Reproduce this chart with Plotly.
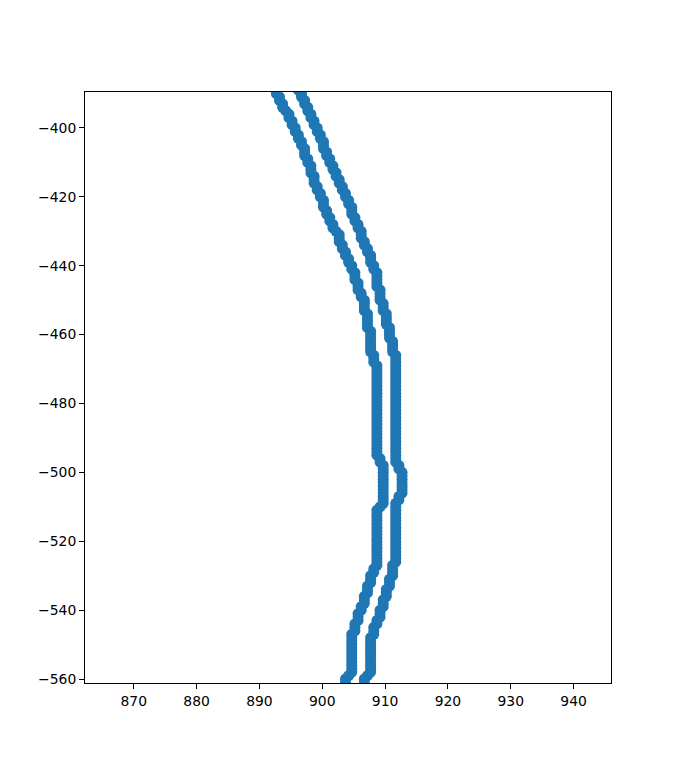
import plotly.graph_objects as go

# Shared y positions (one point per unit along each boundary)
Y = [
    -389, -390, -391, -392, -393, -394, -395, -396, -397, -398,
    -399, -400, -401, -402, -403, -404, -405, -406, -407, -408,
    -409, -410, -411, -412, -413, -414, -415, -416, -417, -418,
    -419, -420, -421, -422, -423, -424, -425, -426, -427, -428,
    -429, -430, -431, -432, -433, -434, -435, -436, -437, -438,
    -439, -440, -441, -442, -443, -444, -445, -446, -447, -448,
    -449, -450, -451, -452, -453, -454, -455, -456, -457, -458,
    -459, -460, -461, -462, -463, -464, -465, -466, -467, -468,
    -469, -470, -471, -472, -473, -474, -475, -476, -477, -478,
    -479, -480, -481, -482, -483, -484, -485, -486, -487, -488,
    -489, -490, -491, -492, -493, -494, -495, -496, -497, -498,
    -499, -500, -501, -502, -503, -504, -505, -506, -507, -508,
    -509, -510, -511, -512, -513, -514, -515, -516, -517, -518,
    -519, -520, -521, -522, -523, -524, -525, -526, -527, -528,
    -529, -530, -531, -532, -533, -534, -535, -536, -537, -538,
    -539, -540, -541, -542, -543, -544, -545, -546, -547, -548,
    -549, -550, -551, -552, -553, -554, -555, -556, -557, -558,
    -559, -560, -561,
]

X_LEFT = [
    892.7, 892.7, 893.2, 893.2, 893.7, 893.7, 894.2, 894.7, 894.7, 895.2,
    895.2, 895.7, 895.7, 896.2, 896.2, 896.7, 896.7, 897.2, 897.2, 897.2,
    897.7, 897.7, 898.2, 898.2, 898.2, 898.7, 898.7, 898.7, 899.2, 899.2,
    899.7, 899.7, 900.2, 900.2, 900.2, 900.7, 900.7, 901.2, 901.2, 901.7,
    901.7, 902.2, 902.7, 902.7, 902.7, 903.2, 903.2, 903.7, 903.7, 904.2,
    904.2, 904.7, 904.7, 905.2, 905.2, 905.2, 905.7, 905.7, 905.7, 906.2,
    906.2, 906.7, 906.7, 906.7, 906.7, 907.2, 907.2, 907.2, 907.2, 907.2,
    907.7, 907.7, 907.7, 907.7, 907.7, 907.7, 907.7, 908.2, 908.2, 908.2,
    908.7, 908.7, 908.7, 908.7, 908.7, 908.7, 908.7, 908.7, 908.7, 908.7,
    908.7, 908.7, 908.7, 908.7, 908.7, 908.7, 908.7, 908.7, 908.7, 908.7,
    908.7, 908.7, 908.7, 908.7, 908.7, 908.7, 908.7, 909.2, 909.2, 909.7,
    909.7, 909.7, 909.7, 909.7, 909.7, 909.7, 909.7, 909.7, 909.7, 909.7,
    909.7, 909.2, 908.7, 908.7, 908.7, 908.7, 908.7, 908.7, 908.7, 908.7,
    908.7, 908.7, 908.7, 908.7, 908.7, 908.7, 908.7, 908.7, 908.7, 908.2,
    908.2, 907.7, 907.7, 907.7, 907.2, 907.2, 907.2, 906.7, 906.7, 906.7,
    906.2, 906.2, 905.7, 905.7, 905.7, 905.2, 905.2, 905.2, 904.7, 904.7,
    904.7, 904.7, 904.7, 904.7, 904.7, 904.7, 904.7, 904.7, 904.7, 904.7,
    904.2, 903.7, 903.7,
]

X_RIGHT = [
    896.2, 896.7, 896.7, 897.2, 897.2, 897.7, 897.7, 898.2, 898.2, 898.7,
    898.7, 899.2, 899.2, 899.7, 899.7, 900.2, 900.2, 900.2, 900.7, 900.7,
    901.2, 901.2, 901.7, 901.7, 902.2, 902.2, 902.7, 902.7, 903.2, 903.2,
    903.7, 903.7, 904.2, 904.2, 904.7, 904.7, 904.7, 905.2, 905.2, 905.7,
    905.7, 906.2, 906.2, 906.2, 906.7, 906.7, 907.2, 907.2, 907.7, 907.7,
    907.7, 908.2, 908.2, 908.7, 908.7, 908.7, 908.7, 908.7, 909.2, 909.2,
    909.2, 909.2, 909.7, 909.7, 909.7, 910.2, 910.2, 910.2, 910.2, 910.7,
    910.7, 910.7, 910.7, 911.2, 911.2, 911.2, 911.2, 911.7, 911.7, 911.7,
    911.7, 911.7, 911.7, 911.7, 911.7, 911.7, 911.7, 911.7, 911.7, 911.7,
    911.7, 911.7, 911.7, 911.7, 911.7, 911.7, 911.7, 911.7, 911.7, 911.7,
    911.7, 911.7, 911.7, 911.7, 911.7, 911.7, 911.7, 911.7, 911.7, 912.2,
    912.2, 912.7, 912.7, 912.7, 912.7, 912.7, 912.7, 912.7, 912.2, 912.2,
    911.7, 911.7, 911.7, 911.7, 911.7, 911.7, 911.7, 911.7, 911.7, 911.7,
    911.7, 911.7, 911.7, 911.7, 911.7, 911.7, 911.7, 911.7, 911.2, 911.2,
    911.2, 911.2, 910.7, 910.7, 910.7, 910.2, 910.2, 910.2, 909.7, 909.7,
    909.7, 909.2, 909.2, 909.2, 908.7, 908.7, 908.2, 908.2, 908.2, 907.7,
    907.7, 907.7, 907.7, 907.7, 907.7, 907.7, 907.7, 907.7, 907.7, 907.7,
    907.2, 906.7, 906.7,
]

X_TICKS = [870, 880, 890, 900, 910, 920, 930, 940]
Y_TICKS = [-400, -420, -440, -460, -480, -500, -520, -540, -560]

BLUE = "#1f77b4"
FONT = dict(family="DejaVu Sans", size=13.9, color="black")

fig = go.Figure()
for xs in (X_LEFT, X_RIGHT):
    fig.add_trace(go.Scatter(
        x=xs, y=Y, mode="markers",
        marker=dict(color=BLUE, size=11, line=dict(width=0)),
        showlegend=False, hoverinfo="skip",
    ))

axis_common = dict(
    showgrid=False, zeroline=False, showline=True, mirror=True,
    linecolor="black", linewidth=1, ticks="outside", ticklen=5,
    tickwidth=1, tickcolor="black", tickfont=FONT,
)

fig.update_xaxes(range=[862.25, 945.95], tickvals=X_TICKS, **axis_common)
fig.update_yaxes(range=[-561.16, -389.55], tickvals=Y_TICKS, **axis_common)

# The page body adds an 8px margin, so the figure is sized to fit inside it.
fig.update_layout(
    width=671, height=759,
    margin=dict(l=77, r=68, t=84, b=84, pad=0),
    paper_bgcolor="white", plot_bgcolor="white",
    font=FONT,
)

fig.write_html("out.html")
